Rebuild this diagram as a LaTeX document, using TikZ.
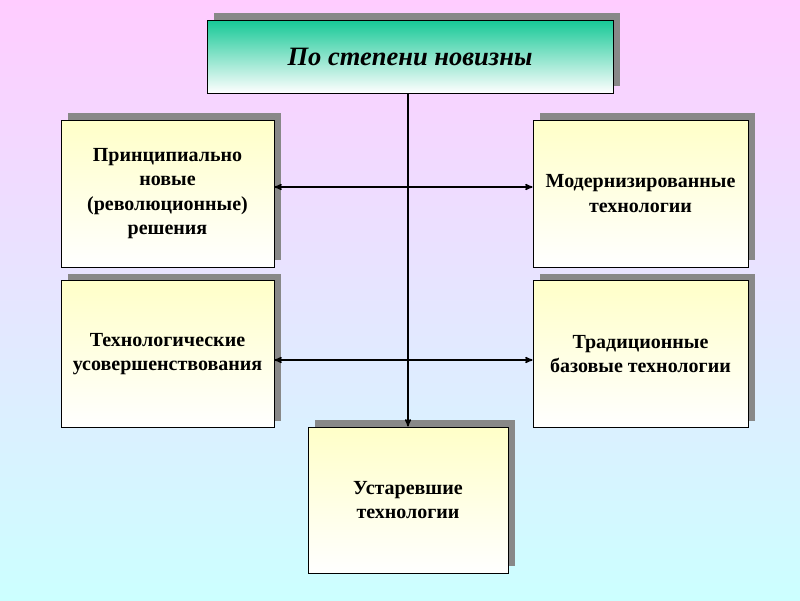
\documentclass[tikz,border=0pt]{standalone}
\usepackage{fontspec}
\setmainfont{Liberation Serif}
\usepackage{xcolor}
\usepackage{tikz}
\usetikzlibrary{arrows,positioning,shadows}

\definecolor{bgpink}{RGB}{255,204,255}
\definecolor{bgcyan}{RGB}{204,255,255}
\definecolor{headteal}{RGB}{22,200,150}
\definecolor{boxyellow}{RGB}{255,255,200}
\definecolor{shadowgray}{RGB}{136,136,136}

\begin{document}
\begin{tikzpicture}[x=1pt, y=-1pt,
        box/.style={draw=black, line width=1pt, align=center, inner sep=0pt,
            top color=boxyellow, bottom color=white,
            drop shadow={shadow xshift=7pt, shadow yshift=7pt, fill=shadowgray, opacity=1},
            font=\bfseries\fontsize{20}{24.5}\selectfont},
        headbox/.style={box, top color=headteal, bottom color=white,
            font=\bfseries\itshape\fontsize{26.5}{30}\selectfont},
        link/.style={line width=1.5pt, >=stealth'}]
        % Background
        \useasboundingbox (0,0) rectangle (800,600);
        \fill[top color=bgpink, bottom color=bgcyan] (0,0) rectangle (800,600);

        % Boxes
        \node[headbox, minimum width=406pt, minimum height=73pt] (novelty) at (410,56.5) {По степени новизны};
        \node[box, minimum width=213pt, minimum height=147pt] (radical) at (167.5,193.5) {Принципиально\\новые\\(революционные)\\решения};
        \node[box, minimum width=215pt, minimum height=147pt] (modern) at (640.5,193.5) {Модернизированные\\технологии};
        \node[box, minimum width=213pt, minimum height=147pt] (improve) at (167.5,354) {Технологические\\усовершенствования};
        \node[box, minimum width=215pt, minimum height=147pt] (basic) at (640.5,354) {Традиционные\\базовые технологии};
        \node[box, minimum width=200pt, minimum height=146pt] (outdated) at (408,500) {Устаревшие\\технологии};

        % Connectors
        \draw[link, ->] (outdated.north |- novelty.south) -- (outdated.north);
        \draw[link, <->] ([yshift=6.5pt]radical.east) -- ([yshift=6.5pt]modern.west);
        \draw[link, <->] ([yshift=-6pt]improve.east) -- ([yshift=-6pt]basic.west);
    \end{tikzpicture}
\end{document}
